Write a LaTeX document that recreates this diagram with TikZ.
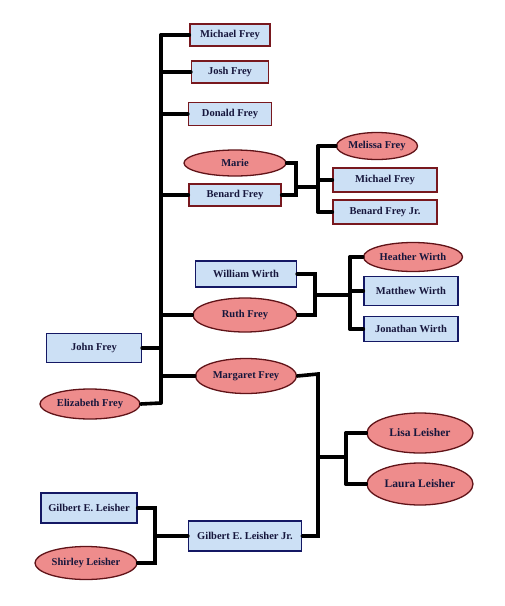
\documentclass[tikz,border=0pt]{standalone}
\usepackage{fontspec}
\setmainfont{Liberation Serif}
\usetikzlibrary{shapes.geometric,positioning,calc}
\definecolor{boxblue}{RGB}{204, 224, 245}
\definecolor{ovalpink}{RGB}{238, 140, 140}
\definecolor{maroon}{RGB}{120, 24, 30}
\definecolor{navy}{RGB}{20, 24, 100}
\definecolor{inkblue}{RGB}{22, 22, 60}

\tikzset{
    person/.style={font=\fontsize{10.5}{11}\selectfont\bfseries, text=inkblue, inner sep=0pt, line width=1.3pt},
    redbox/.style={person, rectangle, fill=boxblue, draw=maroon},
    navybox/.style={person, rectangle, fill=boxblue, draw=navy},
    oval/.style={person, ellipse, fill=ovalpink, draw=maroon!80!black},
    bigoval/.style={oval, font=\fontsize{11.5}{12}\selectfont\bfseries},
    link/.style={line width=3.6pt, black, line cap=round}
}

\begin{document}
\begin{tikzpicture}[x=1pt, y=-1pt]
    \useasboundingbox[fill=white] (0,0) rectangle (505,606);

    % Frey children along the trunk
    \node[redbox, minimum width=80, minimum height=22] (michael) at (230,35) {Michael Frey};
    \node[redbox, minimum width=77, minimum height=22] (josh) at (230,72) {Josh Frey};
    \node[redbox, minimum width=83, minimum height=23] (donald) at (230,114) {Donald Frey};
    \node[oval, minimum width=102, minimum height=26] (marie) at (235,163) {Marie};
    \node[redbox, minimum width=92, minimum height=22] (benard) at (235,195) {Benard Frey};

    % Benard's children
    \node[oval, minimum width=78, minimum height=27] (melissa) at (377,146) {Melissa Frey};
    \node[redbox, minimum width=104, minimum height=24] (michaelb) at (385,180) {Michael Frey};
    \node[redbox, minimum width=104, minimum height=24] (benardjr) at (385,212) {Benard Frey Jr.};

    % Wirth family
    \node[navybox, minimum width=101, minimum height=26] (william) at (246,274) {William Wirth};
    \node[oval, minimum width=104, minimum height=34] (ruth) at (245,315) {Ruth Frey};
    \node[oval, minimum width=99, minimum height=29] (heather) at (413,257) {Heather Wirth};
    \node[navybox, minimum width=94, minimum height=29] (matthew) at (411,291) {Matthew Wirth};
    \node[navybox, minimum width=94, minimum height=25] (jonathan) at (411,329) {Jonathan Wirth};

    % Parents
    \node[navybox, minimum width=95, minimum height=29] (john) at (94,348) {John Frey};
    \node[oval, minimum width=100, minimum height=30] (elizabeth) at (90,404) {Elizabeth Frey};

    % Leisher family
    \node[oval, minimum width=101, minimum height=35] (margaret) at (246,376) {Margaret Frey};
    \node[bigoval, minimum width=106, minimum height=40] (lisa) at (420,433) {Lisa Leisher};
    \node[bigoval, minimum width=106, minimum height=42] (laura) at (420,484) {Laura Leisher};
    \node[navybox, minimum width=96, minimum height=30] (gilbert) at (89,508) {Gilbert E. Leisher};
    \node[oval, minimum width=102, minimum height=33] (shirley) at (86,563) {Shirley Leisher};
    \node[navybox, minimum width=113, minimum height=30] (gilbertjr) at (245,536) {Gilbert E. Leisher Jr.};

    % Junction points
    \coordinate (trunktop) at (161,35);
    \coordinate (trunkbot) at (161,403);
    \coordinate (freyjoin) at (296,187);
    \coordinate (freykids) at (318,187);
    \coordinate (wirthjoin) at (315,295);
    \coordinate (wirthkids) at (350,295);
    \coordinate (leishertop) at (318,374);
    \coordinate (leisherkids) at (346,457);
    \coordinate (gilbertjoin) at (155,536);

    % Trunk and its branches
    \draw[link] (trunktop) -- (trunkbot);
    \draw[link] (trunktop) -- (michael.west);
    \draw[link] (trunktop |- josh.west) -- (josh.west);
    \draw[link] (trunktop |- donald.west) -- (donald.west);
    \draw[link] (trunktop |- benard.west) -- (benard.west);
    \draw[link] (trunktop |- ruth.west) -- (ruth.west);
    \draw[link] (trunktop |- margaret.west) -- (margaret.west);
    \draw[link] (john.east) -- (trunktop |- john.east);
    \draw[link] (elizabeth.east) -- (trunkbot);

    % Marie and Benard
    \draw[link] (marie.east) -- (freyjoin |- marie.east) -- (freyjoin |- benard.east) -- (benard.east);
    \draw[link] (freyjoin) -- (freykids);
    \draw[link] (freykids |- melissa.west) -- (freykids |- benardjr.west);
    \draw[link] (freykids |- melissa.west) -- (melissa.west);
    \draw[link] (freykids |- michaelb.west) -- (michaelb.west);
    \draw[link] (freykids |- benardjr.west) -- (benardjr.west);

    % William and Ruth
    \draw[link] (william.east) -- (wirthjoin |- william.east) -- (wirthjoin |- ruth.east) -- (ruth.east);
    \draw[link] (wirthjoin) -- (wirthkids);
    \draw[link] (wirthkids |- heather.west) -- (wirthkids |- jonathan.west);
    \draw[link] (wirthkids |- heather.west) -- (heather.west);
    \draw[link] (wirthkids |- matthew.west) -- (matthew.west);
    \draw[link] (wirthkids |- jonathan.west) -- (jonathan.west);

    % Margaret and Gilbert Jr.
    \draw[link] (margaret.east) -- (leishertop) -- (leishertop |- gilbertjr.east) -- (gilbertjr.east);
    \draw[link] (leishertop |- leisherkids) -- (leisherkids);
    \draw[link] (leisherkids |- lisa.west) -- (leisherkids |- laura.west);
    \draw[link] (leisherkids |- lisa.west) -- (lisa.west);
    \draw[link] (leisherkids |- laura.west) -- (laura.west);

    % Gilbert and Shirley
    \draw[link] (gilbert.east) -- (gilbertjoin |- gilbert.east) -- (gilbertjoin |- shirley.east) -- (shirley.east);
    \draw[link] (gilbertjoin) -- (gilbertjr.west);
\end{tikzpicture}
\end{document}
